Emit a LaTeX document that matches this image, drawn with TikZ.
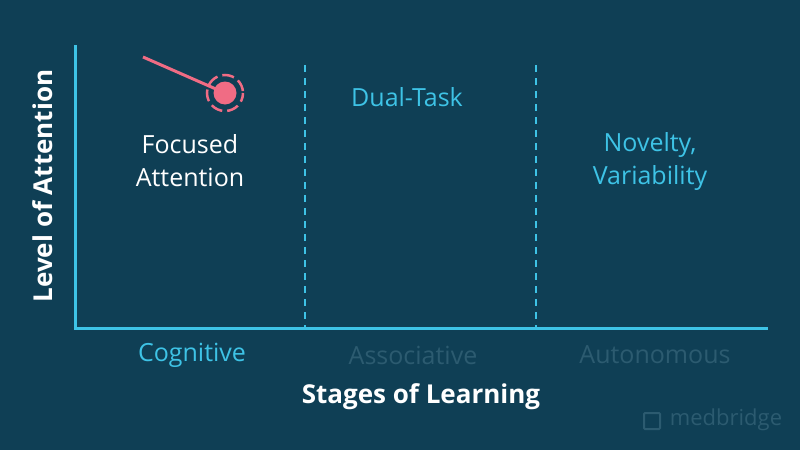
\documentclass[tikz,border=0pt]{standalone}
\usepackage{fontspec}
\setmainfont{Open Sans}
\begin{document}
\begin{tikzpicture}[x=1pt,y=-1pt,
  lab/.style={font=\fontsize{25}{33}\selectfont,align=center},
  dim/.style={lab,text=dimc},
  ttl/.style={font=\fontsize{26}{30}\selectfont\bfseries,text=white}]
\definecolor{bg}{HTML}{0F3F55}
\definecolor{cy}{HTML}{3EC3E6}
\definecolor{dimc}{HTML}{2C5B70}
\definecolor{pk}{HTML}{F06C84}
\useasboundingbox (0,0) rectangle (800,450);
\fill[bg] (0,0) rectangle (800,450);
\coordinate (o) at (75,328);
\coordinate (yt) at (75,45);
\coordinate (xe) at (768,328);
\draw[cy,line width=3pt] (yt) -- (o) -- (xe);
\coordinate (d1t) at (305,65); \coordinate (d1b) at (305,328);
\coordinate (d2t) at (536,65); \coordinate (d2b) at (536,328);
\draw[cy,line width=1.5pt,dash pattern=on 7pt off 6pt] (d1t) -- (d1b);
\draw[cy,line width=1.5pt,dash pattern=on 7pt off 6pt] (d2t) -- (d2b);
\node[circle,fill=pk,minimum size=23pt,inner sep=0] (dot) at (225,93) {};
\coordinate (ls) at (143,57);
\draw[pk,line width=3pt] (ls) -- (dot.center);
\draw[pk,line width=2.5pt,dash pattern=on 12pt off 5pt,dash phase=3pt] (dot.center) circle (18);
\node[lab,text=white] (fa) at (190,161) {Focused\\Attention};
\node[lab,text=cy] (dt) at (407,97) {Dual-Task};
\node[lab,text=cy] (nv) at (650,162) {Novelty,\\Variability};
\node[lab,text=cy] (cg) at (192,355) {Cognitive};
\node[dim] (as) at (413,355) {Associative};
\node[dim] (au) at (655,355) {Autonomous};
\node[ttl] (sl) at (421,397) {Stages of Learning};
\node[ttl,rotate=90] (la) at (43,186) {Level of Attention};
\node[font=\fontsize{22}{26}\selectfont,text=dimc] (mb) at (726,420) {medbridge};
\node[draw=dimc,line width=2pt,minimum size=16pt,inner sep=0,rounded corners=1pt] (ic) at (652,421) {};
\end{tikzpicture}
\end{document}
